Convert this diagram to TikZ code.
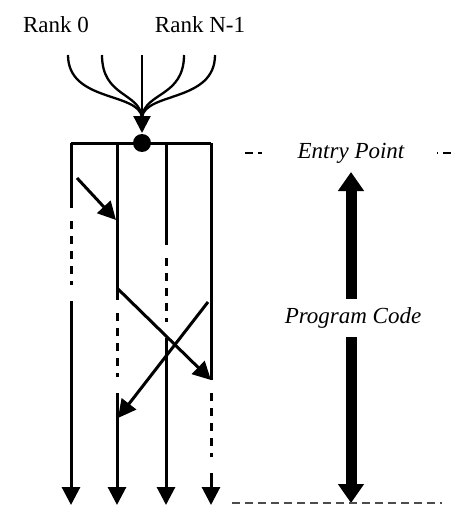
\documentclass[tikz,border=0pt]{standalone}
\usepackage{fontspec}
\setmainfont{Liberation Serif}
\usetikzlibrary{arrows.meta}

\begin{document}
\begin{tikzpicture}[x=1pt,y=-1pt,>={Triangle[width=18pt,length=18pt]},
lane/.style={line width=3pt},
gapline/.style={line width=3pt,dash pattern=on 8pt off 7pt},
fan/.style={line width=2.3pt},
lbl/.style={font=\fontsize{23}{27}\selectfont,inner sep=1pt},
side/.style={lbl,font=\fontsize{23}{27}\selectfont\itshape,fill=white},
bigarrow/.style={line width=11pt,{Triangle[width=25pt,length=19pt]}-{Triangle[width=25pt,length=19pt]}}]
\useasboundingbox (0,0) rectangle (474,506);
% ranks
\node[lbl] (rank0) at (56,25) {Rank 0};
\node[lbl] (rankn) at (200,25) {Rank N-1};
% fan-in of the ranks
\foreach \x [count=\i] in {68,102,142,184,215}
  \coordinate (f\i) at (\x,55);
\coordinate (merge) at (142,133);
\coordinate (base) at (142,117);
\draw[fan] (f1) .. controls (68,102) and (138,92) .. (base);
\draw[fan] (f2) .. controls (102,97) and (139,92) .. (base);
\draw[fan] (f4) .. controls (184,97) and (145,92) .. (base);
\draw[fan] (f5) .. controls (215,102) and (146,92) .. (base);
\draw[fan,->,>={Triangle[width=17pt,length=17pt]}] (f3) -- (merge);
\fill (142,143) circle (9pt);
% lanes
\draw[lane] (71,143) -- (211,143);
\foreach \x/\e [count=\i] in {71/208,117/300,166/245,211/380}{
  \coordinate (top\i) at (\x,143);
  \coordinate (cut\i) at (\x,\e);
  \coordinate (ds\i) at (\x,\e+13);
  \coordinate (de\i) at (\x,\e+77);
  \coordinate (res\i) at (\x,\e+93);
  \coordinate (bot\i) at (\x,505);
  \draw[lane] (top\i) -- (cut\i);
  \draw[gapline] (ds\i) -- (de\i);
  \draw[lane,->] (res\i) -- (bot\i);
}
% jumps between lanes
\coordinate (j1s) at (77,178);
\coordinate (j1e) at (116,220);
\coordinate (j2s) at (117,288);
\coordinate (j2e) at (211,380);
\coordinate (j3s) at (208,302);
\coordinate (j3e) at (118,418);
\draw[lane,->] (j1s) -- (j1e);
\draw[lane,->] (j2s) -- (j2e);
\draw[lane,->] (j3s) -- (j3e);
% right side
\coordinate (epl) at (245,153);
\coordinate (epr) at (452,153);
\draw[line width=2pt,dash pattern=on 8pt off 5pt on 4pt off 5pt] (epl) -- (epr);
\node[side,minimum width=172pt,minimum height=22pt] (entry) at (351,153) {Entry Point};
\coordinate (codetop) at (351,172);
\coordinate (codebot) at (351,503);
\draw[bigarrow] (codetop) -- (codebot);
\node[side,minimum height=38pt] (code) at (353,318) {Program Code};
\coordinate (endl) at (232,503);
\coordinate (endr) at (442,503);
\draw[line width=2pt,black!70,dash pattern=on 8pt off 5pt] (endl) -- (endr);
\end{tikzpicture}
\end{document}
